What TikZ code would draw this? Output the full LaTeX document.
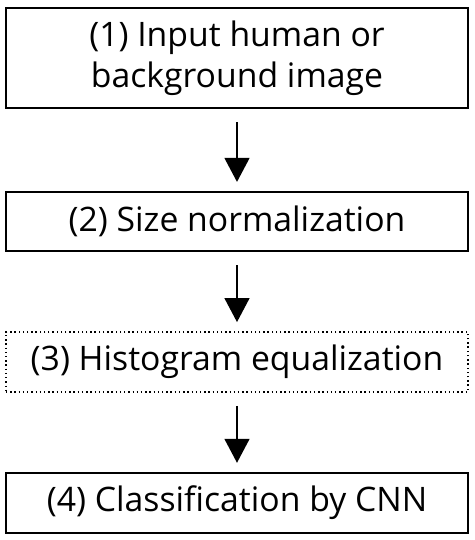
\documentclass[tikz,border=0pt]{standalone}
\usepackage{fontspec}
\setmainfont{Open Sans}
\usetikzlibrary{arrows.meta}

\begin{document}
\begin{tikzpicture}[
    stepbox/.style={rectangle, draw=black, line width=1.4pt, minimum width=11.55cm, align=center, font=\fontsize{24}{29}\selectfont, inner sep=0pt},
    optbox/.style={stepbox, line width=1pt, dotted},
    flow/.style={-{Triangle[width=0.62cm, length=0.6cm]}, line width=1.5pt, shorten <=0.33cm, shorten >=0.23cm}
]
\useasboundingbox (0,0) rectangle (11.85,-13.5);

% Steps
\node[stepbox, minimum height=2.5cm] (input) at (5.925, -1.45) {(1) Input human or\\background image};
\node[stepbox, minimum height=1.475cm] (norm) at (5.925, -5.54) {(2) Size normalization};
\node[optbox, minimum height=1.5cm] (histeq) at (5.925, -9.05) {(3) Histogram equalization};
\node[stepbox, minimum height=1.5cm] (cnn) at (5.925, -12.575) {(4) Classification by CNN};

% Arrows
\draw[flow] (input) -- (norm);
\draw[flow] (norm) -- (histeq);
\draw[flow] (histeq) -- (cnn);

\end{tikzpicture}
\end{document}
